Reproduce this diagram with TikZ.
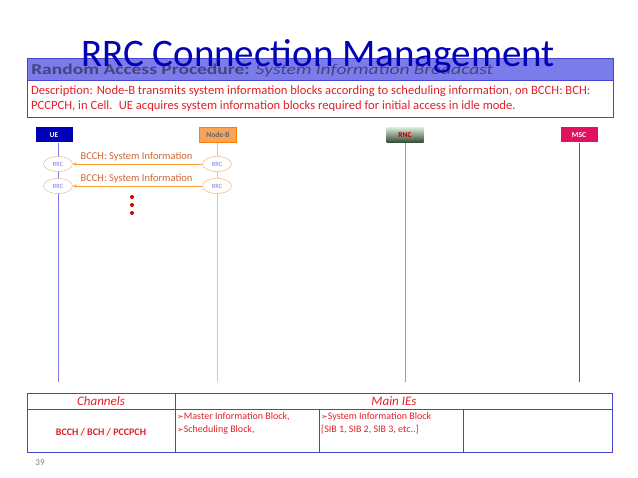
\documentclass[tikz,border=0pt]{standalone}
\usepackage{fontspec}
\setmainfont{Carlito}
\newfontfamily\dingfont{DejaVu Sans}
\usetikzlibrary{arrows.meta,shapes.geometric}
\definecolor{barblue}{HTML}{7B7BEA}
\definecolor{frameblue}{HTML}{4545D0}
\definecolor{txtred}{HTML}{E0202A}
\definecolor{ueblue}{HTML}{0000B4}
\definecolor{nbor}{HTML}{F7A35A}
\definecolor{rncgreen}{HTML}{7FB87F}
\definecolor{mscpink}{HTML}{E0115F}
\definecolor{arrowor}{HTML}{F5A030}
\newcommand{\fs}[1]{\fontsize{#1}{#1}\selectfont}
\newcommand{\pointer}{{\dingfont\fontsize{8}{8}\selectfont ➢}}
\tikzstyle{entity} = [rectangle, minimum width=37pt, minimum height=15pt, inner sep=0pt, font=\fs{7.5}\bfseries]
\tikzstyle{rrc} = [ellipse, draw, minimum width=29pt, minimum height=15pt, inner sep=0pt, font=\fs{6.5}, text=barblue]
\tikzstyle{msg} = [draw=arrowor, thick, -{Stealth[length=4pt]}]
\tikzstyle{cell} = [font=\fs{10}, text=txtred]

\begin{document}
\begin{tikzpicture}[x=1pt,y=-1pt]
  \useasboundingbox (0,0) rectangle (638,478);
  % header bar and description
  \node (bar) [draw=frameblue, fill=barblue, minimum width=586pt, minimum height=22pt, anchor=north west, inner sep=0pt] at (27,58) {};
  \node (bartxt) [anchor=west, inner sep=0pt, xscale=1.3, font=\fs{15}\bfseries, text=black!45!barblue] at (31,70) {Random Access Procedure: \textit{\mdseries System Information Broadcast}};
  \node (desc) [draw=frameblue, minimum width=586pt, minimum height=37pt, anchor=north west, inner sep=0pt] at (27,80) {};
  \node (desctxt) [anchor=west, align=left, inner sep=0pt, font=\fs{12.6}, text=txtred] at (31,98.5) {Description: Node-B transmits system information blocks according to scheduling information, on BCCH: BCH:\\[3pt] PCCPCH, in Cell.\enspace UE acquires system information blocks required for initial access in idle mode.};
  \node (title) [font=\fs{39}, text=ueblue] at (318,56) {RRC Connection Management};

  % entities
  \node (ue)  [entity, fill=ueblue, text=white] at (54,135) {UE};
  \node (nb)  [entity, fill=nbor, draw=orange, text=black!60] at (218,135) {Node-B};
  \node (rnc) [entity, top color=white!70!rncgreen, bottom color=black!60!rncgreen, text=red!70!black] at (405,135) {RNC};
  \node (msc) [entity, fill=mscpink, text=white] at (579,135) {MSC};
  \coordinate (ueend)  at (58,382);
  \coordinate (nbend)  at (217,382);
  \coordinate (rncend) at (405,382);
  \coordinate (mscend) at (579,382);
  \draw[barblue] (58,143) -- (ueend);
  \draw[nbor!70] (217,143) -- (nbend);
  \draw[rncgreen] (rnc) -- (rncend);
  \draw[mscpink] (msc) -- (mscend);

  % messages
  \node (ue1) [rrc, draw=brown!60, fill=white] at (58,164) {RRC};
  \node (ue2) [rrc, draw=brown!60, fill=white] at (58,186) {RRC};
  \node (nb1) [rrc, draw=nbor, fill=white] at (217,164) {RRC};
  \node (nb2) [rrc, draw=nbor, fill=white] at (217,186) {RRC};
  \draw[msg] (nb1) -- node[above, font=\fs{10.5}, text=brown!80!red, xshift=-1pt, yshift=-1pt] {BCCH: System Information} (ue1);
  \draw[msg] (nb2) -- node[above, font=\fs{10.5}, text=brown!80!red, xshift=-1pt, yshift=-1pt] {BCCH: System Information} (ue2);
  \foreach \y in {197,205,213}
    \fill[red!85!black] (132,\y) circle (2pt);

  % table
  \draw[frameblue, thick] (27,393) rectangle (612,452);
  \draw[frameblue, thick] (27,409) -- (612,409);
  \draw[frameblue, thick] (175,393) -- (175,452);
  \draw[frameblue, thick] (319,409) -- (319,452);
  \draw[frameblue, thick] (463,409) -- (463,452);
  \node (chan) [font=\fs{13}\itshape, text=txtred] at (101,401) {Channels};
  \node (ies)  [font=\fs{13}\itshape, text=txtred] at (394,401) {Main IEs};
  \node (bch)  [cell, font=\fs{10}\bfseries] at (101,432) {BCCH / BCH / PCCPCH};
  \node (mib)  [cell, anchor=north west, align=left, inner sep=0pt] at (177,412) {\pointer Master Information Block,\\[3pt] \pointer Scheduling Block,};
  \node (sib)  [cell, anchor=north west, align=left, inner sep=0pt] at (321,412) {\pointer System Information Block\\[3pt] {[SIB 1, SIB 2, SIB 3, etc..]}};
  \node (page) [font=\fs{9}, text=gray] at (40,463) {39};
\end{tikzpicture}
\end{document}
